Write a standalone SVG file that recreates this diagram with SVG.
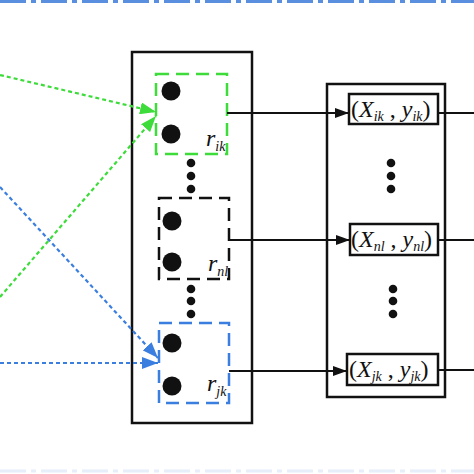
<svg xmlns="http://www.w3.org/2000/svg" width="474" height="474" viewBox="0 0 474 474">
<defs>
<style>
.box{fill:none;stroke:#111;stroke-width:2.5}
.ibox{fill:#fff;stroke:#111;stroke-width:2.5}
.dg{fill:none;stroke:#3ddc3a;stroke-width:2.5;stroke-dasharray:13 7}
.dk{fill:none;stroke:#111;stroke-width:2.5;stroke-dasharray:13 7}
.db{fill:none;stroke:#3a7fe0;stroke-width:2.5;stroke-dasharray:13 7}
.dot{fill:#111}
.con{fill:none;stroke:#111;stroke-width:2}
.cg{fill:none;stroke:#3ddc3a;stroke-width:2.2;stroke-dasharray:4 3}
.cb{fill:none;stroke:#3a7fe0;stroke-width:2.2;stroke-dasharray:4 3}
.t{font-family:"Liberation Serif",serif;fill:#111}
.it{font-style:italic}
</style>
<marker id="ak" markerWidth="14" markerHeight="10" refX="14" refY="5" orient="auto" markerUnits="userSpaceOnUse"><path d="M0,0 L14,5 L0,10 z" fill="#111"/></marker>
<marker id="ag" markerWidth="16" markerHeight="12" refX="16" refY="6" orient="auto" markerUnits="userSpaceOnUse"><path d="M0,0 L16,6 L0,12 z" fill="#3ddc3a"/></marker>
<marker id="ab" markerWidth="16" markerHeight="12" refX="16" refY="6" orient="auto" markerUnits="userSpaceOnUse"><path d="M0,0 L16,6 L0,12 z" fill="#3a7fe0"/></marker>
</defs>
<rect width="474" height="474" fill="#fff"/>
<line x1="0" y1="1.5" x2="474" y2="1.5" stroke="#5a8fe0" stroke-width="3" stroke-dasharray="26 5 5 5"/>
<line x1="0" y1="471" x2="474" y2="471" stroke="#e6eef9" stroke-width="3" stroke-dasharray="26 5 5 5"/>

<g id="left-panel">
<rect class="box" x="132" y="52" width="120" height="371"/>
</g>
<g id="right-panel">
<rect class="box" x="327" y="84" width="118" height="313"/>
</g>

<g id="group-ik">
<rect class="dg" x="156" y="74" width="71" height="80"/>
<circle class="dot" cx="171" cy="91" r="9.5"/>
<circle class="dot" cx="171" cy="134" r="9.5"/>
<text class="t it" x="206" y="146" font-size="24">r<tspan font-size="14" dy="5">ik</tspan></text>
</g>
<g id="vdots-left-1">
<circle class="dot" cx="191" cy="163" r="4.3"/>
<circle class="dot" cx="191" cy="176" r="4.3"/>
<circle class="dot" cx="191" cy="189" r="4.3"/>
</g>
<g id="group-nl">
<rect class="dk" x="159" y="198" width="70" height="81"/>
<circle class="dot" cx="172" cy="221" r="9.5"/>
<circle class="dot" cx="172" cy="262" r="9.5"/>
<text class="t it" x="208" y="271" font-size="24">r<tspan font-size="14" dy="5">nl</tspan></text>
</g>
<g id="vdots-left-2">
<circle class="dot" cx="191" cy="289" r="4.3"/>
<circle class="dot" cx="191" cy="301" r="4.3"/>
<circle class="dot" cx="191" cy="314" r="4.3"/>
</g>
<g id="group-jk">
<rect class="db" x="159" y="323" width="70" height="80"/>
<circle class="dot" cx="172" cy="343" r="9.5"/>
<circle class="dot" cx="172" cy="386" r="9.5"/>
<text class="t it" x="207" y="391" font-size="24">r<tspan font-size="14" dy="5">jk</tspan></text>
</g>

<g id="pair-ik">
<rect class="ibox" x="349" y="94" width="89" height="30"/>
<text class="t" x="351" y="117" font-size="24">(<tspan class="it">X</tspan><tspan class="it" font-size="14" dy="4">ik</tspan><tspan dy="-4"> , </tspan><tspan class="it">y</tspan><tspan class="it" font-size="14" dy="4">ik</tspan><tspan dy="-4">)</tspan></text>
</g>
<g id="vdots-right-1">
<circle class="dot" cx="391" cy="163" r="4.3"/>
<circle class="dot" cx="391" cy="176" r="4.3"/>
<circle class="dot" cx="391" cy="189" r="4.3"/>
</g>
<g id="pair-nl">
<rect class="ibox" x="350" y="224" width="88" height="31"/>
<text class="t" x="351" y="247" font-size="24">(<tspan class="it">X</tspan><tspan class="it" font-size="14" dy="4">nl</tspan><tspan dy="-4"> , </tspan><tspan class="it">y</tspan><tspan class="it" font-size="14" dy="4">nl</tspan><tspan dy="-4">)</tspan></text>
</g>
<g id="vdots-right-2">
<circle class="dot" cx="393" cy="289" r="4.3"/>
<circle class="dot" cx="393" cy="301" r="4.3"/>
<circle class="dot" cx="393" cy="314" r="4.3"/>
</g>
<g id="pair-jk">
<rect class="ibox" x="347" y="354" width="91" height="31"/>
<text class="t" x="349" y="377" font-size="24">(<tspan class="it">X</tspan><tspan class="it" font-size="14" dy="4">jk</tspan><tspan dy="-4"> , </tspan><tspan class="it">y</tspan><tspan class="it" font-size="14" dy="4">jk</tspan><tspan dy="-4">)</tspan></text>
</g>

<g id="connectors">
<line class="con" x1="227" y1="113" x2="349" y2="113" marker-end="url(#ak)"/>
<line class="con" x1="229" y1="240" x2="350" y2="240" marker-end="url(#ak)"/>
<line class="con" x1="229" y1="371" x2="347" y2="371" marker-end="url(#ak)"/>
<line class="con" x1="438" y1="113" x2="474" y2="113"/>
<line class="con" x1="438" y1="240" x2="474" y2="240"/>
<line class="con" x1="438" y1="370" x2="474" y2="370"/>
<line class="cg" x1="0" y1="75" x2="156" y2="112" marker-end="url(#ag)"/>
<line class="cg" x1="0" y1="297" x2="156" y2="116" marker-end="url(#ag)"/>
<line class="cb" x1="0" y1="187" x2="158" y2="358" marker-end="url(#ab)"/>
<line class="cb" x1="0" y1="363" x2="158" y2="363" marker-end="url(#ab)"/>
</g>
</svg>
